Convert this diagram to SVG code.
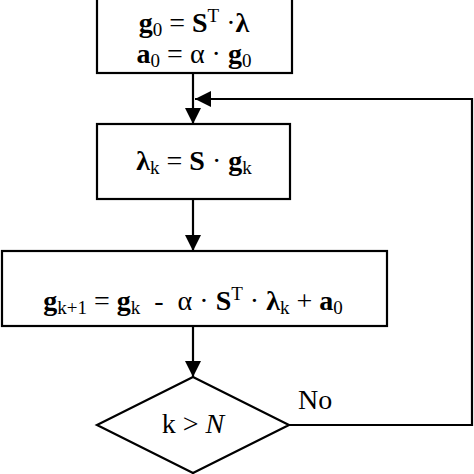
<svg xmlns="http://www.w3.org/2000/svg" width="474" height="474" viewBox="0 0 474 474">
<style>
.box{fill:#fff;stroke:#000;stroke-width:2.2}
.ln{fill:none;stroke:#000;stroke-width:2.2}
text{font-family:"Liberation Serif","Times New Roman",serif;font-size:28px;fill:#000}
.b{font-weight:bold}
.s{font-size:19px}
</style>
<defs>
<marker id="ah" markerUnits="userSpaceOnUse" markerWidth="16" markerHeight="16" viewBox="0 0 16 16" refX="16" refY="8" orient="auto">
<path d="M0,0 L16,8 L0,16 Z" fill="#000"/>
</marker>
</defs>
<g id="connectors">
<line class="ln" x1="193" y1="73" x2="193" y2="124" marker-end="url(#ah)"/>
<line class="ln" x1="193" y1="199" x2="193" y2="251" marker-end="url(#ah)"/>
<line class="ln" x1="193" y1="326" x2="193" y2="377" marker-end="url(#ah)"/>
<polyline class="ln" points="289,425 472,425 472,99 195,99" marker-end="url(#ah)"/>
<line class="ln" x1="193" y1="473" x2="193" y2="476"/>
<text x="298" y="409">No</text>
</g>
<g id="init">
<rect class="box" x="97" y="-3" width="195" height="76"/>
<text x="194" y="32" text-anchor="middle"><tspan class="b">g</tspan><tspan class="s" dy="4">0</tspan><tspan dy="-4"> = </tspan><tspan class="b">S</tspan><tspan class="s" dy="-10">T</tspan><tspan dy="10"> ·</tspan><tspan class="b">λ</tspan></text>
<text x="194" y="63" text-anchor="middle"><tspan class="b">a</tspan><tspan class="s" dy="4">0</tspan><tspan dy="-4"> = α · </tspan><tspan class="b">g</tspan><tspan class="s" dy="4">0</tspan></text>
</g>
<g id="lambda">
<rect class="box" x="97" y="124" width="193" height="75"/>
<text x="194" y="170" text-anchor="middle"><tspan class="b">λ</tspan><tspan class="s" dy="4">k</tspan><tspan dy="-4"> = </tspan><tspan class="b">S</tspan><tspan> · </tspan><tspan class="b">g</tspan><tspan class="s" dy="4">k</tspan></text>
</g>
<g id="update">
<rect class="box" x="2" y="251" width="385" height="75"/>
<text x="193" y="310" text-anchor="middle"><tspan class="b">g</tspan><tspan class="s" dy="4">k+1</tspan><tspan dy="-4"> = </tspan><tspan class="b">g</tspan><tspan class="s" dy="4">k</tspan><tspan dy="-4" xml:space="preserve">  -  α · </tspan><tspan class="b">S</tspan><tspan class="s" dy="-10">T</tspan><tspan dy="10"> · </tspan><tspan class="b">λ</tspan><tspan class="s" dy="4">k</tspan><tspan dy="-4"> + </tspan><tspan class="b">a</tspan><tspan class="s" dy="4">0</tspan></text>
</g>
<g id="decision">
<polygon class="box" points="193,377 289,425 193,473 97,425"/>
<text x="193" y="433" text-anchor="middle">k &gt; <tspan font-style="italic">N</tspan></text>
</g>
</svg>
